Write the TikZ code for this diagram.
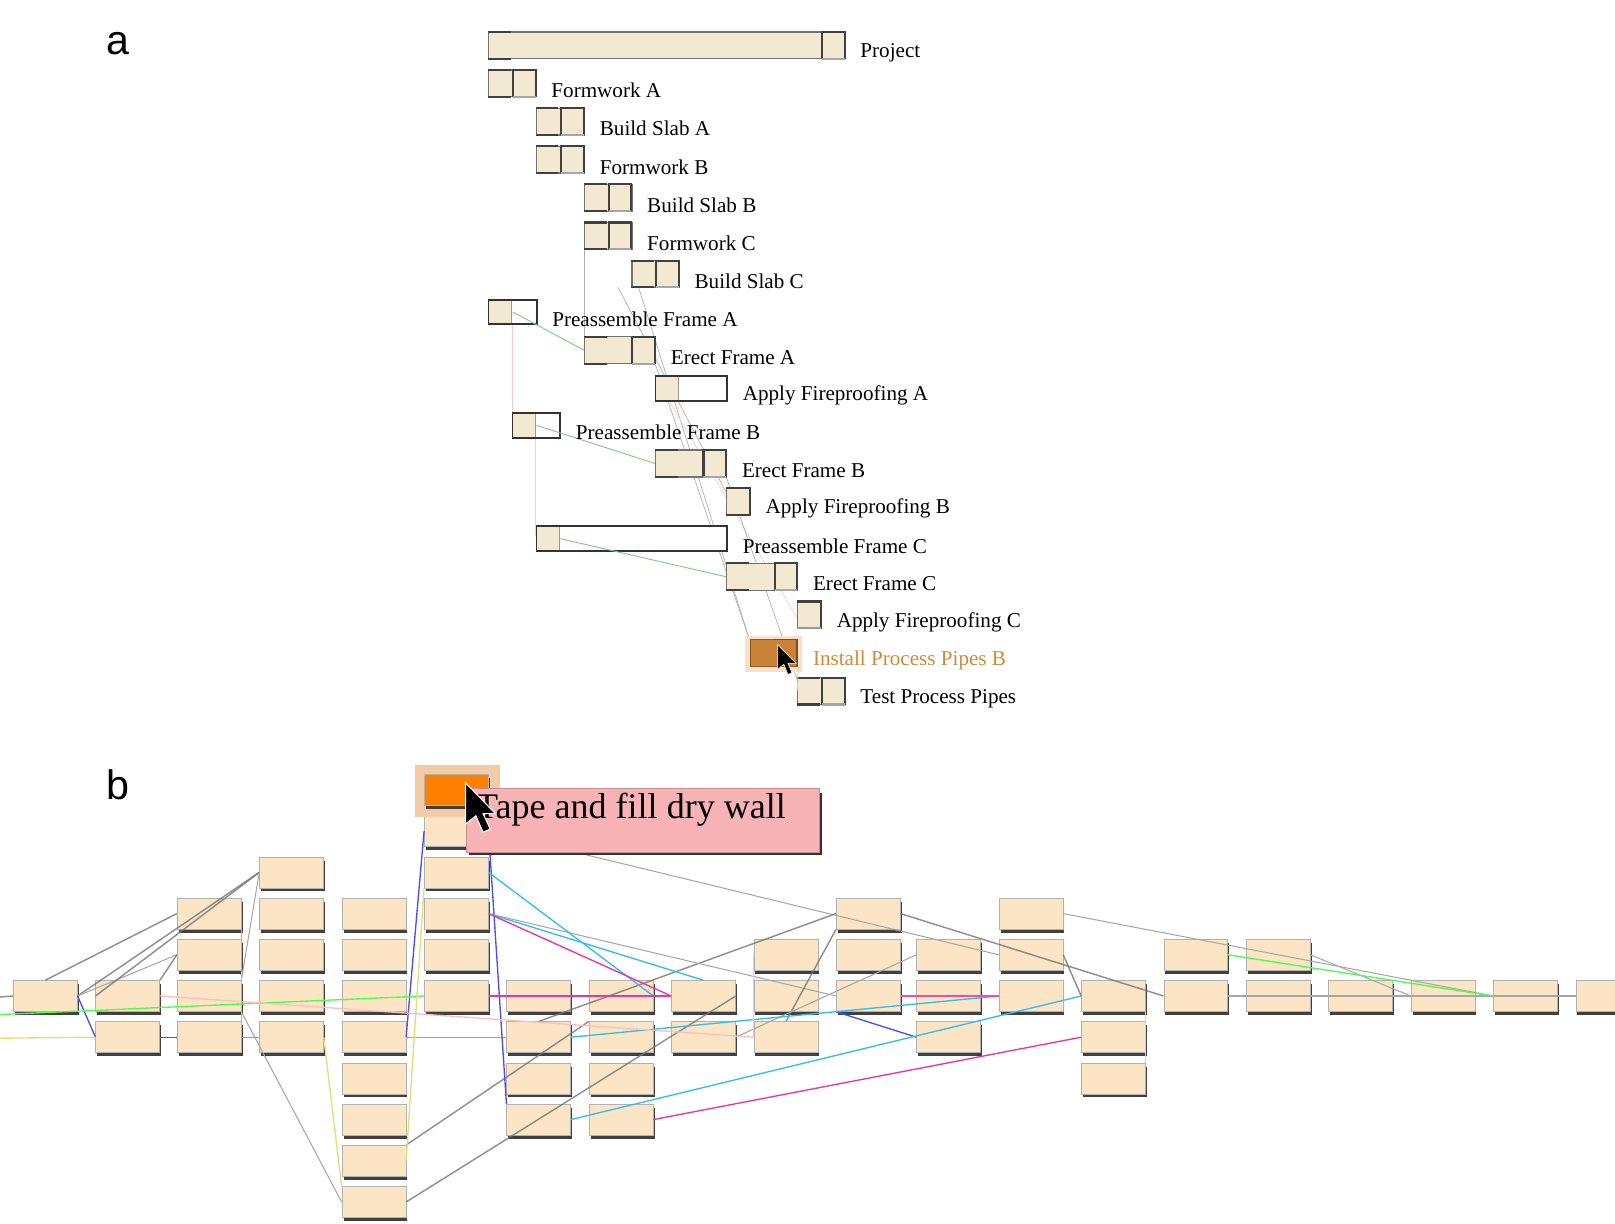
\documentclass[tikz,border=0pt]{standalone}
\usepackage{fontspec}
\setmainfont{Liberation Serif}
\newfontfamily\lsans{Liberation Sans}
\usetikzlibrary{shadows}
\definecolor{creamA}{HTML}{F3E8D0}
\definecolor{creamB}{HTML}{FBE5C4}
\definecolor{pipe}{HTML}{C98238}
\definecolor{pipetxt}{HTML}{CF8B3A}
\definecolor{hot}{HTML}{FF7F00}
\definecolor{halo}{HTML}{F3CBA6}
\definecolor{tip}{HTML}{F7B3B5}
\begin{document}
\begin{tikzpicture}[x=1pt,y=-1pt,
  bar/.style={draw=black!55,line width=1.2pt,fill=creamA,inner sep=0pt,minimum height=26pt,anchor=west},
  hollow/.style={draw=black!80,line width=2pt,fill=white,inner sep=0pt,minimum height=24pt,anchor=west},
  lbl/.style={anchor=west,font=\fontsize{20.5}{22}\selectfont,inner sep=0pt},
  hcap/.style={draw=black!75,line width=2pt},
  bbox/.style={fill=creamB,draw=black!30,line width=0.6pt,minimum width=62pt,minimum height=30pt,inner sep=0pt,
     copy shadow={shadow xshift=1.5pt,shadow yshift=-3.5pt,fill=black!75,draw=none}},
  dep/.style={line width=0.7pt,black!30},
  g/.style={line width=1.4pt,black!55,opacity=0.8},
  gl/.style={line width=1pt,black!35},
  ce/.style={line width=1.3pt},
]
\useasboundingbox (0,0) rectangle (1568,1188);
\fill[white] (0,0) rectangle (1568,1188);
\node[font=\lsans\fontsize{40}{44}\selectfont] (la) at (115,42) {a};
\node[font=\lsans\fontsize{40}{44}\selectfont] (lb) at (115,762) {b};

% ---------- part a : dependency lines ----------
\draw[dep] (567,242) -- (567,340);
\draw[dep] (620,279) -- (728,622);
\draw[dep] (636,353) -- (728,622);
\draw[dep] (600,279) -- (705,478);
\draw[red!20,line width=0.7pt] (497,316) -- (497,410);
\draw[red!20,line width=0.7pt] (520,426) -- (520,520);
\draw[red!20,line width=0.7pt] (650,390) -- (774,600);
\draw[dep] (705,463) -- (774,660);

% ---------- part a : bars ----------
\foreach \n/\xa/\xb/\y in {proj/474/820/44, fa/474/520/81, bsa/520/567/118, fb/520/567/155,
   bsb/567/613/192, fc/567/613/229, bsc/613/659/266, efa/567/636/340, efb/636/705/450,
   tpp/774/820/671, efc/705/774/560}{
  \node[bar,minimum width={\xb-\xa}] (\n) at (\xa,\y) {};
  \draw[hcap] (\xa,\y-13) -- (\xa+22,\y-13);
  \draw[hcap] (\xa,\y+13) -- (\xa+22,\y+13);
  \draw[hcap,fill=creamA] (\xb-22,\y+13) -- (\xb-22,\y-13) -- (\xb,\y-13) -- (\xb,\y+13);
  \draw[black!35,line width=2pt] (\xb-22,\y+13) -- (\xb,\y+13);
}
\node[bar,minimum width=23pt] (afb) at (705,487) {};
\draw[hcap] (705,474) -- (728,474) -- (728,500); \draw[hcap] (705,500)--(728,500);
\node[bar,minimum width=23pt] (afc) at (774,597) {};
\draw[hcap] (774,584) -- (797,584) -- (797,610); \draw[black!40,line width=2pt] (774,610)--(797,610);
% hollow bars
\foreach \n/\xa/\xb/\y in {pfa/474/520/303, afa/636/705/377, pfb/497/543/413, pfc/520/705/523}{
  \node[hollow,minimum width={\xb-\xa}] (\n) at (\xa,\y) {};
  \fill[creamA] (\xa+1,\y-11) rectangle (\xa+23,\y+11);
  \draw[black!40,line width=0.8pt] (\xa+23,\y-11) -- (\xa+23,\y+11);
}
% install pipes
\fill[halo!60] (723,617) rectangle (779,652);
\node[bar,fill=pipe,draw=pipe!70!black,minimum width=46pt] (ippb) at (728,634) {};
\draw[pipe!60!black,line width=1.4pt] (752,621) -- (774,621) -- (774,647);

% green deps
\draw[green!60!black!50,line width=0.9pt] (pfa.center) -- (efa.west);
\draw[green!60!black!50,line width=0.9pt] (pfb.center) -- (efb.west);
\draw[green!60!black!50,line width=0.9pt] ([xshift=24pt]pfc.west) -- (efc.west);
\draw[yellow!70!black!60,line width=0.8pt] (ippb.south east) -- (tpp.west);

% labels
\foreach \n/\t in {proj/Project, fa/Formwork A, bsa/Build Slab A, fb/Formwork B, bsb/Build Slab B,
  fc/Formwork C, bsc/Build Slab C, pfa/Preassemble Frame A, efa/Erect Frame A, afa/Apply Fireproofing A,
  pfb/Preassemble Frame B, efb/Erect Frame B, afb/Apply Fireproofing B, efc/Erect Frame C,
  afc/Apply Fireproofing C, tpp/Test Process Pipes}{
  \node[lbl] (t\n) at ([xshift=14pt,yshift=-7pt]\n.east) {\t};
}
\node[lbl] (tpfc) at ([xshift=14pt,yshift=-7pt]pfc.east) {Preassemble Frame C};
\node[lbl,text=pipetxt] (tippb) at ([xshift=14pt,yshift=-7pt]ippb.east) {Install Process Pipes B};
% cursor a
\draw[black,fill=black,line width=0.6pt,draw=white] (755,626) -- (755,650) -- (761,645) -- (765,655) -- (769,653) -- (765,644) -- (773,644) -- cycle;

% ---------- part b : boxes ----------
\foreach \c/\x/\rows in {0/13/{952}, 1/93/{952,992}, 2/172/{872,912,952,992}, 3/252/{832,872,912,952,992},
  4/332/{872,912,952,992,1032,1072,1112,1152}, 5/412/{792,832,872,912,952}, 6/492/{952,992,1032,1072},
  7/572/{952,992,1032,1072}, 8/652/{952,992}, 9/732/{912,952,992}, 10/812/{872,912,952},
  11/890/{912,952,992}, 12/970/{872,912,952}, 13/1050/{952,992,1032}, 14/1130/{912,952},
  15/1210/{912,952}, 16/1290/{952}, 17/1370/{952}, 18/1450/{952}, 19/1530/{952}}{
  \foreach \r in \rows {
    \node[bbox] (b\c-\r) at (\x+31,\r+15) {};
  }
}
\fill[halo] (403,743) rectangle (485,793);
\node[bbox,fill=hot] (b5-752) at (443,767) {};

% ---------- part b : edges ----------
\draw[g] (0,968) -- (b0-952.west);
\draw[g] (b0-952.east) -- (b3-832.west);
\draw[g] (b0-952.north) -- (b2-872.west);
\draw[gl] (b0-952.east) -- (b2-912.west);
\draw[g] (b1-952.west) -- (b3-832.west);
\draw[g] (b1-952.north east) -- (b2-912.west);
\draw[gl] (b3-832.west) -- (b2-952.north east);
\draw[gl] (b2-952.south east) -- (b4-1152.west);
\draw[g] (b4-1152.east) -- (b8-952.east);
\draw[gl] (b4-992.east) -- (b6-992.west);
\draw[g] (b4-1112.north east) -- (b7-992.north west);
\draw[gl] (b5-792.east) -- (b12-912.west);
\draw[g] (b6-992.north) -- (b10-872.west);
\draw[gl] (b5-872.east) -- (b10-952.west);
\draw[g] (b10-872.east) -- (b14-952.west);
\draw[gl] (b12-872.east) -- (b18-952.west);
\draw[gl] (b14-952.east) -- (b19-952.west);
\draw[gl] (b15-912.east) -- (b17-952.west);
\draw[g] (b9-992.north) -- (b10-872.south west);
\draw[gl] (b8-992.east) -- (b11-912.west);
\draw[g] (b13-952.west) -- (b12-912.east);
\draw[ce,blue!70] (b4-992.east) -- (b5-792.west);
\draw[ce,blue!70] (b5-792.east) -- (b6-1072.north west);
\draw[ce,blue!70] (b0-952.east) -- (b1-992.west);
\draw[ce,blue!70] (b1-992.east) -- (b2-992.west);
\draw[ce,blue!70] (b10-952.south west) -- (b11-992.west);
\draw[ce,cyan!80] (b5-832.east) -- (b7-952.east);
\draw[ce,cyan!80] (b5-872.east) -- (b8-952.north);
\draw[ce,cyan!80] (b6-1072.east) -- (b13-952.west);
\draw[ce,cyan!80] (b2-992.east) -- (b3-992.west);
\draw[ce,cyan!80] (b6-992.east) -- (b12-952.west);
\draw[ce,magenta!80] (b5-872.east) -- (b8-952.west);
\draw[ce,magenta!80] (b7-1072.east) -- (b13-992.west);
\draw[ce,magenta!80] (b5-952.east) -- (b8-952.west);
\draw[ce,magenta!70] (b10-952.east) -- (b12-952.west);
\draw[ce,green!70] (0,985) -- (b5-952.west);
\draw[ce,green!70] (b14-912.east) -- (b18-952.west);
\draw[ce,green!70] (b2-872.east) -- (b2-992.east);
\draw[ce,yellow!80!black!60] (0,1008) -- (b1-992.west);
\draw[ce,yellow!80!black!60] (b3-992.east) -- (b4-1152.north west);
\draw[ce,yellow!80!black!60] (b5-832.south west) -- (b4-1112.east);
\draw[ce,yellow!80!black!60] (b13-952.south east) -- (b13-1032.north east);
\draw[ce,yellow!80!black!60] (b9-912.west) -- (b9-992.west);
\draw[ce,red!25] (b1-952.east) -- (b9-992.west);

% tooltip
\fill[black!80] (455,770) rectangle (798,830);
\node[fill=tip,draw=tip!80!black,line width=0.5pt,minimum width=343pt,minimum height=62pt,inner sep=0pt,anchor=north west] (tt) at (452,765) {};
\node[anchor=base west,inner sep=0pt,font=\fontsize{35}{38}\selectfont] (ttx) at (462,795) {Tape and fill dry wall};
% cursor b
\draw[black,fill=black,line width=1pt,draw=white] (452,760) -- (452,800) -- (462,792) -- (469,808) -- (476,805) -- (469,790) -- (481,790) -- cycle;
\end{tikzpicture}
\end{document}
